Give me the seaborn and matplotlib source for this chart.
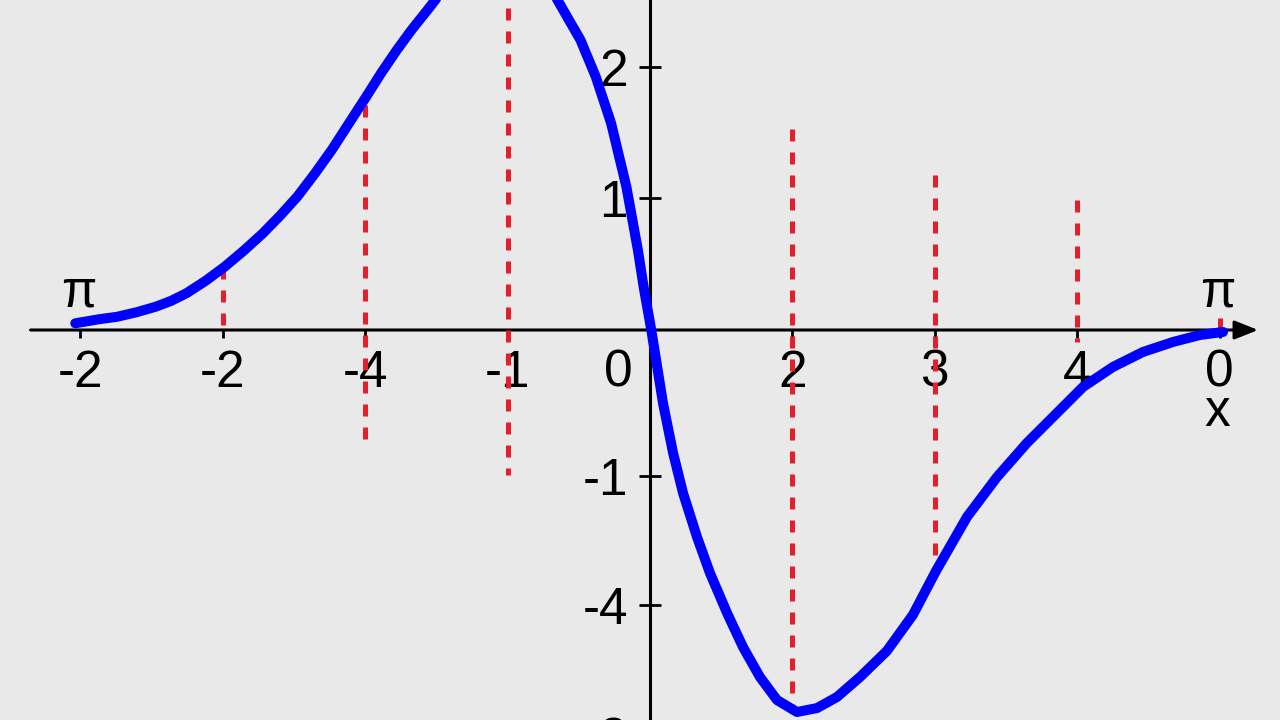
import matplotlib
matplotlib.use("Agg")
import matplotlib.pyplot as plt
import seaborn as sns

# curve (x in tick units, y in axis units)
curve_x = [-4.036, -3.874, -3.740, -3.606, -3.471, -3.364, -3.256, -3.122, -2.987, -2.853,
           -2.719, -2.598, -2.477, -2.356, -2.235, -2.114, -1.993, -1.886, -1.778, -1.671,
           -1.563, -1.426, -1.264, -1.053, -0.864, -0.737, -0.650, -0.569, -0.488, -0.381,
           -0.273, -0.166, -0.085, -0.045, 0.009, 0.035, 0.091, 0.162, 0.232, 0.330,
           0.421, 0.541, 0.653, 0.772, 0.892, 1.032, 1.173, 1.313, 1.475, 1.664,
           1.847, 2.008, 2.226, 2.437, 2.647, 2.858, 3.041, 3.251, 3.462, 3.673,
           3.862, 4.024]
curve_y = [0.051, 0.081, 0.101, 0.135, 0.177, 0.221, 0.279, 0.373, 0.481, 0.603,
           0.735, 0.869, 1.014, 1.186, 1.369, 1.572, 1.774, 1.957, 2.129, 2.287,
           2.433, 2.624, 2.798, 2.890, 2.814, 2.662, 2.510, 2.357, 2.205, 1.926,
           1.572, 1.090, 0.608, 0.329, 0.000, -0.175, -0.555, -0.935, -1.240, -1.574,
           -1.848, -2.152, -2.411, -2.639, -2.814, -2.905, -2.875, -2.791, -2.639, -2.440,
           -2.165, -1.833, -1.422, -1.118, -0.859, -0.631, -0.433, -0.281, -0.167, -0.091,
           -0.038, -0.015]

# red dashed stems
stem_x = [-3, -2, -1, 1, 2, 3, 4]
stem_top = [0.479, 1.711, 2.449, 1.529, 1.179, 0.989, 0.091]
stem_bottom = [0.0, -0.852, -1.103, -2.905, -1.815, -0.091, 0.0]

# tick labels as printed in the picture
xtick_pos = [-4, -3, -2, -1, 0, 1, 2, 3, 4]
xtick_labels = ["-2", "-2", "-4", "-1", "0", "2", "3", "4", "0"]
ytick_pos = [2, 1, -1.11, -2.09, -3.08]
ytick_labels = ["2", "1", "-1", "-4", "-2"]

bg = "#e9e9e9"
sns.set_theme(style="white", rc={"figure.facecolor": bg, "axes.facecolor": bg})
plt.rcParams["font.family"] = ["Liberation Sans", "DejaVu Sans"]

fig = plt.figure(figsize=(12.8, 7.2), dpi=100)
ax = fig.add_axes([0, 0, 1, 1])
ax.set_xlim(-4.5646, 4.4242)
ax.set_ylim(-2.9658, 2.5095)

# axes through the origin
for side in ["top", "right", "bottom"]:
    ax.spines[side].set_visible(False)
ax.spines["bottom"].set_position(("data", 0))
ax.spines["left"].set_position(("data", 0))
ax.spines["left"].set_color("black")
ax.spines["left"].set_linewidth(2.2)
ax.spines["left"].set_zorder(2.5)

ax.annotate("", xy=(4.27, 0), xytext=(-4.35, 0), zorder=2.5,
            arrowprops=dict(arrowstyle="-|>,head_length=0.55,head_width=0.22",
                            color="black", lw=2.2, mutation_scale=26,
                            shrinkA=0, shrinkB=0))

ax.set_xticks([p for p in xtick_pos if p != 0])
ax.set_yticks(ytick_pos[:4])
ax.tick_params(axis="x", direction="out", length=6, width=2, color="black",
               labelbottom=False, bottom=True)
ax.tick_params(axis="y", direction="inout", length=16, width=2, color="black",
               labelleft=False, left=True)
ax.grid(False)

ax.vlines(stem_x, stem_top, stem_bottom, colors="#e31e2d", linewidth=3.6,
          linestyles=(0, (2.4, 2.2)), zorder=3)

sns.lineplot(x=curve_x, y=curve_y, sort=False, color="#0000ff", linewidth=7.2,
             solid_capstyle="round", solid_joinstyle="round", zorder=4, ax=ax)

fs = 37
for p, lab in zip(xtick_pos, xtick_labels):
    dx = -32 if p == 0 else 0
    ax.annotate(lab, xy=(p, 0), xytext=(dx, -57), textcoords="offset pixels",
                ha="center", va="baseline", fontsize=fs, color="black",
                zorder=2, annotation_clip=False)
for p, lab in zip(ytick_pos, ytick_labels):
    ax.annotate(lab, xy=(0, p), xytext=(-22, -19), textcoords="offset pixels",
                ha="right", va="baseline", fontsize=fs, color="black",
                zorder=2, annotation_clip=False)

for p in [-4, 4]:
    ax.annotate("π", xy=(p, 0), xytext=(-2, 23), textcoords="offset pixels",
                ha="center", va="baseline", fontsize=fs, color="black", zorder=2)
ax.annotate("x", xy=(4, 0), xytext=(-2, -96), textcoords="offset pixels",
            ha="center", va="baseline", fontsize=fs, color="black", zorder=2)

plt.savefig("out.png", dpi=100, facecolor=bg)
plt.close()
